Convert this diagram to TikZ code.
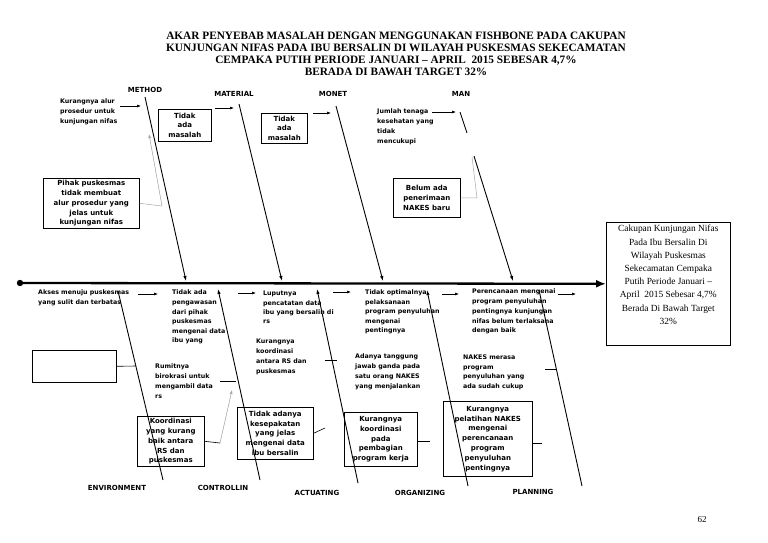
\documentclass[tikz,border=0pt]{standalone}
\usepackage{fontspec}
\setmainfont{Liberation Serif}
\newfontfamily\cf{DejaVu Sans}
\usetikzlibrary{arrows.meta}
\begin{document}
\begin{tikzpicture}[x=1pt,y=-1pt,
  bone/.style={line width=0.9pt},
  bonearr/.style={line width=0.9pt,{Latex[length=5pt,width=3.5pt]}-},
  topbone/.style={line width=0.9pt,-{Latex[length=5pt,width=3.5pt]}},
  arr/.style={-{Latex[length=4pt,width=3pt]}, line width=0.6pt},
  stub/.style={line width=0.6pt},
  gline/.style={line width=0.5pt, draw=black!35},
  cause/.style={font=\cf\bfseries\fontsize{6.3}{9.6}\selectfont, align=left, anchor=north west, inner sep=0pt},
  cbox/.style={draw, line width=0.6pt, font=\cf\bfseries\fontsize{7}{9.8}\selectfont, align=center, inner sep=1pt, anchor=north west},
  cat/.style={font=\cf\bfseries\fontsize{7}{8}\selectfont, inner sep=0pt},
  ]
\useasboundingbox (0,0) rectangle (768,543);

% title
\node[font=\bfseries\fontsize{11.3}{12}\selectfont, align=center] (title) at (396,54)
 {AKAR PENYEBAB MASALAH DENGAN MENGGUNAKAN FISHBONE PADA CAKUPAN\\
  KUNJUNGAN NIFAS PADA IBU BERSALIN DI WILAYAH PUSKESMAS SEKECAMATAN\\
  CEMPAKA PUTIH PERIODE JANUARI -- APRIL\ \ 2015 SEBESAR 4,7\%\\
  BERADA DI BAWAH TARGET 32\%};

% effect box
\node[draw, line width=0.6pt, minimum width=124pt, minimum height=123pt, anchor=north west, inner sep=0pt] (effect) at (606,222) {};
\node[anchor=north, align=center, font=\fontsize{9.4}{13.2}\selectfont, inner sep=0pt] (efftext) at ([yshift=-3pt]effect.north)
 {Cakupan Kunjungan Nifas\\Pada Ibu Bersalin Di\\Wilayah Puskesmas\\Sekecamatan Cempaka\\Putih Periode Januari --\\April\ \ 2015 Sebesar 4,7\%\\Berada Di Bawah Target\\32\%};

% spine
\coordinate (sp) at (20,283);
\fill (sp) circle (3.2);
\draw[line width=2.3pt, -{Latex[length=10pt,width=8pt]}] (sp) -- (effect.west);

% category labels
\node[cat] (lmethod) at (145,90) {METHOD};
\node[cat] (lmaterial) at (234,94) {MATERIAL};
\node[cat] (lmonet) at (333,94) {MONET};
\node[cat] (lman) at (461,94) {MAN};
\node[cat] (lenv) at (117,488) {ENVIRONMENT};
\node[cat] (lctrl) at (223,488) {CONTROLLIN};
\node[cat] (lact) at (317,493) {ACTUATING};
\node[cat] (lorg) at (420,493) {ORGANIZING};
\node[cat] (lplan) at (533,492) {PLANNING};

% top bones
\coordinate (m1) at (145,97);  \coordinate (m2) at (186,281);
\coordinate (ma1) at (239,104); \coordinate (ma2) at (282,281);
\coordinate (mo1) at (336,106); \coordinate (mo2) at (383,281);
\coordinate (mn0) at (460,112); \coordinate (mn1) at (467,133);
\coordinate (mn2) at (474,156); \coordinate (mn3) at (513,281);
\draw[topbone] (m1) -- (m2);
\draw[topbone] (ma1) -- (ma2);
\draw[topbone] (mo1) -- (mo2);
\draw[bone] (mn0) -- (mn1);
\draw[topbone] (mn2) -- (mn3);

% bottom bones
\coordinate (e1) at (118,291); \coordinate (e2) at (163,480);
\coordinate (c1) at (218,289); \coordinate (c2) at (260,480);
\coordinate (ac1) at (317,289); \coordinate (ac2) at (358,483);
\coordinate (o1) at (427,290); \coordinate (o2) at (468,486);
\coordinate (p1) at (539,290); \coordinate (p2) at (582,486);
\draw[bone] (e1) -- (e2);
\draw[bonearr] (c1) -- (c2);
\draw[bonearr] (ac1) -- (ac2);
\draw[bonearr] (o1) -- (o2);
\draw[bone] (p1) -- (p2);

% top causes
\node[cause, font=\cf\bfseries\fontsize{6.3}{10}\selectfont] (t1) at (60,99) {Kurangnya alur\\prosedur untuk\\kunjungan nifas};
\coordinate (a1s) at (120,106); \coordinate (a1e) at (141,106);
\draw[arr] (a1s) -- (a1e);

\node[cbox, minimum width=53pt, minimum height=32pt] (b1) at (158,109) {Tidak\\ada\\masalah};
\coordinate (a2s) at (215,108); \coordinate (a2e) at (234,108);
\draw[arr] (a2s) -- (a2e);

\node[cbox, minimum width=46pt, minimum height=30pt, font=\cf\bfseries\fontsize{7}{9.2}\selectfont] (b2) at (261,113) {Tidak\\ada\\masalah};
\coordinate (a3s) at (313,113); \coordinate (a3e) at (331,113);
\draw[arr] (a3s) -- (a3e);

\node[cause, font=\cf\bfseries\fontsize{6.3}{9.7}\selectfont] (t2) at (377,109) {Jumlah tenaga\\kesehatan yang\\tidak\\mencukupi};
\coordinate (a4s) at (432,112); \coordinate (a4e) at (456,112);
\draw[arr] (a4s) -- (a4e);

\node[cbox, minimum width=96pt, minimum height=50pt] (b3) at (43,178) {Pihak puskesmas\\tidak membuat\\alur prosedur yang\\jelas untuk\\kunjungan nifas};
\coordinate (g1) at (162,206); \coordinate (g2) at (149,134);
\draw[gline] (b3.east) -- (g1);
\draw[gline, -{Latex[length=4pt,width=3pt]}, fill=black!35] (g1) -- (g2);

\node[cbox, minimum width=67pt, minimum height=39pt] (b4) at (393,178) {Belum ada\\penerimaan\\NAKES baru};
\coordinate (g3) at (477,198); \coordinate (g4) at (472,157);
\draw[gline] (b4.east) -- (g3) -- (g4);

% bottom causes near spine
\node[cause, font=\cf\bfseries\fontsize{6.3}{9.5}\selectfont] (k1) at (38,290) {Akses menuju puskesmas\\yang sulit dan terbatas};
\coordinate (k1s) at (138,294); \coordinate (k1e) at (158,294);
\draw[arr] (k1s) -- (k1e);

\node[cause] (k2) at (172,290) {Tidak ada\\pengawasan\\dari pihak\\puskesmas\\mengenai data\\ibu yang};
\coordinate (k2s) at (238,293); \coordinate (k2e) at (256,293);
\draw[arr] (k2s) -- (k2e);

\node[cause, font=\cf\bfseries\fontsize{6.3}{9.4}\selectfont] (k3) at (263,291) {Luputnya\\pencatatan data\\ibu yang bersalin di\\rs};
\coordinate (k3s) at (333,292); \coordinate (k3e) at (351,292);
\draw[arr] (k3s) -- (k3e);

\node[cause, font=\cf\bfseries\fontsize{6.3}{9.5}\selectfont] (k4) at (365,290) {Tidak optimalnya\\pelaksanaan\\program penyuluhan\\mengenai\\pentingnya};
\coordinate (k4s) at (442,294); \coordinate (k4e) at (459,294);
\draw[arr] (k4s) -- (k4e);

\node[cause, font=\cf\bfseries\fontsize{6.3}{9.7}\selectfont] (k5) at (472,289) {Perencanaan mengenai\\program penyuluhan\\pentingnya kunjungan\\nifas belum terlaksana\\dengan baik};
\coordinate (k5s) at (558,294); \coordinate (k5e) at (576,294);
\draw[arr] (k5s) -- (k5e);

% second row
\node[draw, line width=0.6pt, minimum width=84pt, minimum height=32pt, anchor=north west, inner sep=0pt] (b5) at (32,350) {};
\coordinate (s1) at (136,366);
\draw[stub] (b5.east) -- (s1);

\node[cause, font=\cf\bfseries\fontsize{6.3}{9.7}\selectfont] (d1) at (155,364) {Rumitnya\\birokrasi untuk\\mengambil data\\rs};
\coordinate (s2a) at (220,381); \coordinate (s2b) at (236,381);
\draw[stub] (s2a) -- (s2b);

\node[cause, font=\cf\bfseries\fontsize{6.3}{10}\selectfont] (d2) at (256,339) {Kurangnya\\koordinasi\\antara RS dan\\puskesmas};
\coordinate (s3a) at (325,360); \coordinate (s3b) at (337,360);
\draw[stub] (s3a) -- (s3b);

\node[cause, font=\cf\bfseries\fontsize{6.3}{9.7}\selectfont] (d3) at (355,354) {Adanya tanggung\\jawab ganda pada\\satu orang NAKES\\yang menjalankan};

\node[cause, font=\cf\bfseries\fontsize{6.3}{9.4}\selectfont] (d4) at (463,355) {NAKES merasa\\program\\penyuluhan yang\\ada sudah cukup};
\coordinate (s4a) at (545,369); \coordinate (s4b) at (557,369);
\draw[stub] (s4a) -- (s4b);

% third row boxes
\node[cbox, minimum width=67pt, minimum height=50pt] (b6) at (137,416) {Koordinasi\\yang kurang\\baik antara\\RS dan\\puskesmas};
\coordinate (g5) at (220,443); \coordinate (g6) at (232,390);
\draw[stub] (b6.east) -- (g5);
\draw[gline, -{Latex[length=4pt,width=3pt]}, fill=black!35] (g5) -- (g6);

\node[cbox, minimum width=76pt, minimum height=52pt] (b7) at (237,407) {Tidak adanya\\kesepakatan\\yang jelas\\mengenai data\\ibu bersalin};
\coordinate (s5) at (325,428);
\draw[stub] (b7.east) -- (s5);

\node[cbox, minimum width=73pt, minimum height=54pt] (b8) at (344,412) {Kurangnya\\koordinasi\\pada\\pembagian\\program kerja};
\coordinate (s6) at (430,441);
\draw[stub] (b8.east |- s6) -- (s6);

\node[cbox, minimum width=89pt, minimum height=75pt] (b9) at (443,401) {Kurangnya\\pelatihan NAKES\\mengenai\\perencanaan\\program\\penyuluhan\\pentingnya};
\coordinate (s7) at (542,443);
\draw[stub] (b9.east |- s7) -- (s7);

% page number
\node[font=\fontsize{9}{10}\selectfont] (pg) at (702,520) {62};
\end{tikzpicture}
\end{document}
